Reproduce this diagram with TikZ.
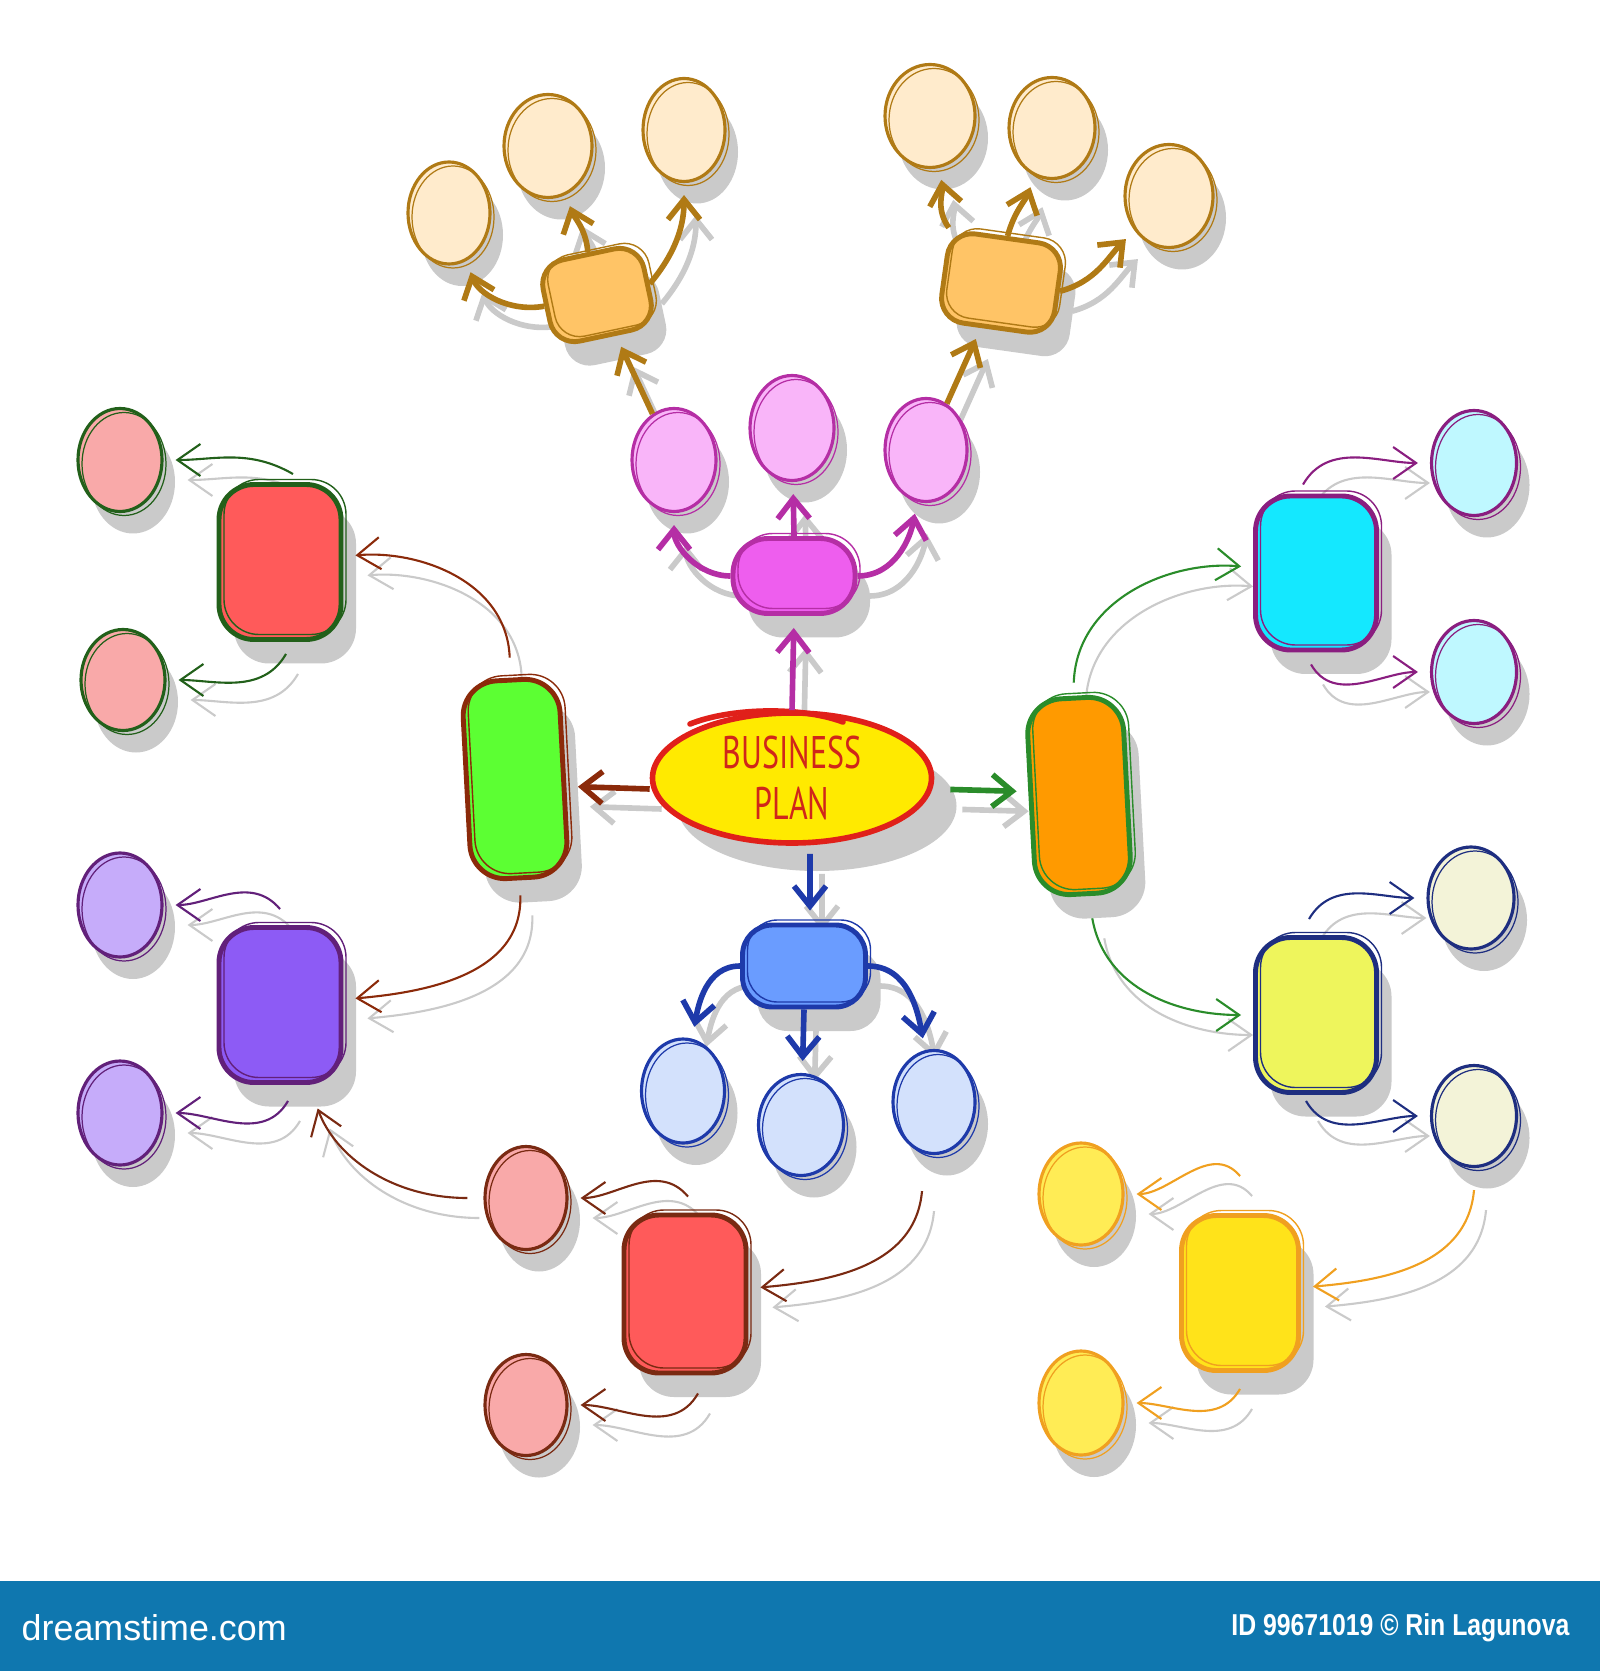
\documentclass[tikz,border=0pt]{standalone}
\usepackage{fontspec}
\usetikzlibrary{arrows.meta,shapes.geometric,shadows,positioning}

\newfontfamily\handfont[FakeStretch=0.7]{PT Sans}
\newfontfamily\barfont{Liberation Sans}
\newfontfamily\creditfont[FakeStretch=0.82]{Liberation Sans}

% fills
\definecolor{planyellow}{HTML}{FFEA00}
\definecolor{planred}{HTML}{E0201A}
\definecolor{plantext}{HTML}{D0261A}
\definecolor{greenfill}{HTML}{5CFF33}
\definecolor{orangefill}{HTML}{FF9A00}
\definecolor{magfill}{HTML}{EE5EEE}
\definecolor{magleaf}{HTML}{F9B5F9}
\definecolor{tanfill}{HTML}{FFC466}
\definecolor{tanleaf}{HTML}{FFEBCC}
\definecolor{redfill}{HTML}{FF5A5A}
\definecolor{pinkleaf}{HTML}{F9A9A9}
\definecolor{purplefill}{HTML}{8D5BF5}
\definecolor{lilacleaf}{HTML}{C6ACFA}
\definecolor{bluefill}{HTML}{6A9CFF}
\definecolor{blueleaf}{HTML}{D3E1FC}
\definecolor{cyanfill}{HTML}{14E8FF}
\definecolor{cyanleaf}{HTML}{BFF8FF}
\definecolor{limefill}{HTML}{EEF55C}
\definecolor{creamleaf}{HTML}{F3F3D8}
\definecolor{yellowfill}{HTML}{FFE31A}
\definecolor{yellowleaf}{HTML}{FFEC55}
% lines
\definecolor{brownline}{HTML}{8B2A0A}
\definecolor{greenline}{HTML}{2A8C2A}
\definecolor{magline}{HTML}{B52EA5}
\definecolor{tanline}{HTML}{B07A15}
\definecolor{blueline}{HTML}{1E3AAA}
\definecolor{forestline}{HTML}{22601A}
\definecolor{purpleline}{HTML}{62207A}
\definecolor{rustline}{HTML}{7A2A12}
\definecolor{plumline}{HTML}{8A1E80}
\definecolor{navyline}{HTML}{1E2E80}
\definecolor{goldline}{HTML}{F0A020}
\definecolor{shadowgray}{HTML}{CACACA}
\definecolor{barblue}{HTML}{0F77AF}

\pgfdeclarelayer{bg}
\pgfsetlayers{bg,main}

% all connectors of the map, used twice (shadow pass and real pass)
\newcommand{\maplinks}{%
  \path
    % centre to the four branches
    ([yshift=-1.1mm]ce.west) edge [link=brownline, heavy] ([yshift=-1mm]gr.east)
    ([yshift=-1.1mm]ce.east) edge [link=greenline, heavy, shorten <=1.6mm] ([yshift=0.7mm]or.west)
    (ce.north) edge [link=magline, heavy] (mr.south)
    ([xshift=1.8mm]ce.south) edge [link=blueline, heavy, shorten <=0.8mm] ([xshift=0.6mm]br.north)
    % magenta group
    (mr.west) edge [link=magline, heavy, out=180, in=-90] (me1)
    (mr.north) edge [link=magline, heavy] (me2)
    (mr.east) edge [link=magline, heavy, out=0, in=-100] (me3)
    % tan groups
    (me1) edge [link=tanline, heavy] (lor)
    (me3) edge [link=tanline, heavy] (ror)
    (lor.west) edge [link=tanline, heavy, out=190, in=-70] (te1)
    (lor.north) edge [link=tanline, heavy, out=95, in=-70] (te2)
    (lor.east) edge [link=tanline, heavy, out=50, in=-90] (te3)
    (ror.north west) edge [link=tanline, heavy, out=125, in=-80] (te4)
    (ror.north) edge [link=tanline, heavy, out=75, in=-110] (te5)
    (ror.east) edge [link=tanline, heavy, out=15, in=-135] (te6)
    % blue group
    (br.west) edge [link=blueline, heavy, out=180, in=80] (lb1)
    (br.south) edge [link=blueline, heavy] (lb2)
    (br.east) edge [link=blueline, heavy, out=0, in=100] (lb3)
    % left side
    ([yshift=2mm]gr.north) edge [link=brownline, out=92, in=5] (rr1)
    ([yshift=-1.5mm]gr.south) edge [link=brownline, out=-88, in=5] (pr)
    ([xshift=1.3mm,yshift=0.8mm]rr1.north) edge [link=forestline, out=150, in=0] (pe1)
    ([xshift=0.6mm,yshift=-1.2mm]rr1.south) edge [link=forestline, out=-120, in=0] (pe2)
    ([yshift=1.6mm]pr.north) edge [link=purpleline, out=130, in=0] (le1)
    ([xshift=0.8mm,yshift=-1.6mm]pr.south) edge [link=purpleline, out=-120, in=0] (le2)
    % bottom left
    ([xshift=-1.2mm,yshift=-3.6mm]lb3.south) edge [link=rustline, out=-95, in=5] (rr2)
    ([xshift=-1.6mm]pk1.west) edge [link=rustline, out=180, in=-70, shorten >=2.5mm] (pr)
    ([xshift=0.3mm,yshift=1.6mm]rr2.north) edge [link=rustline, out=130, in=0] (pk1)
    ([xshift=1.3mm,yshift=-1.8mm]rr2.south) edge [link=rustline, out=-120, in=0] (pk2)
    % right side
    ([yshift=1.3mm]or.north) edge [link=greenline, out=88, in=175] (cr)
    ([xshift=0.8mm,yshift=-2.2mm]or.south) edge [link=greenline, out=-80, in=180] (yr)
    ([xshift=-1.3mm,yshift=0.9mm]cr.north) edge [link=plumline, out=60, in=180] (cy1)
    ([xshift=-0.5mm,yshift=-1.2mm]cr.south) edge [link=plumline, out=-60, in=180] (cy2)
    ([xshift=-0.7mm,yshift=1.6mm]yr.north) edge [link=navyline, out=60, in=180] (cm1)
    ([xshift=-1mm,yshift=-0.6mm]yr.south) edge [link=navyline, out=-60, in=180] (cm2)
    % bottom right
    ([yshift=-2.2mm]cm2.south) edge [link=goldline, out=-95, in=5] (yl)
    ([yshift=3.7mm]yl.north) edge [link=goldline, out=130, in=0] (ye1)
    ([yshift=-1.6mm]yl.south) edge [link=goldline, out=-120, in=0] (ye2)
  ;}

\begin{document}
\begin{tikzpicture}[x=0.1mm, y=0.1mm,
    every edge/.style={draw, line width=0.6pt, shorten >=1.2mm,
      -{Straight Barb[length=2.3mm,width=3.2mm]}},
    heavy/.style={line width=1.6pt, -{Straight Barb[length=2mm,width=3.2mm]}},
    link/.style={draw=#1},
    topic/.style 2 args={draw=#2, fill=#1, line width=1.4pt, rounded corners=3.5mm,
      inner sep=0pt, minimum width=12.2mm, minimum height=15.5mm,
      drop shadow={shadow xshift=1.5mm, shadow yshift=-2.4mm, fill=shadowgray, opacity=1},
      postaction={draw=#2, line width=0.4pt, transform canvas={shift={(0.5mm,0.5mm)}}}},
    leaf/.style 2 args={ellipse, draw=#2, fill=#1, line width=0.9pt, inner sep=0pt,
      minimum width=8.4mm, minimum height=10.3mm,
      drop shadow={shadow xshift=1.3mm, shadow yshift=-2.2mm, fill=shadowgray, opacity=1},
      postaction={draw=#2, line width=0.35pt, transform canvas={shift={(0.4mm,-0.4mm)}}}}]
  \useasboundingbox (0,0) rectangle (1600,-1671);

  % centre
  \node [ellipse, draw=planred, fill=planyellow, line width=1.6pt, inner sep=0pt,
    minimum width=27.9mm, minimum height=13mm, align=center, text=plantext,
    font=\handfont\fontsize{13}{14.5}\selectfont,
    drop shadow={shadow xshift=2.5mm, shadow yshift=-2.8mm, fill=shadowgray, opacity=1}]
    (ce) at (792,-778) {BUSINESS\\PLAN};
  \draw [planred, line width=1.6pt, line cap=round]
    (690,-724) .. controls (730,-708) and (800,-706) .. (843,-722);

  % branches
  \node [topic={greenfill}{brownline}, minimum width=9.7mm, minimum height=19.8mm, rotate=3] (gr) at (515,-779) {};
  \node [topic={orangefill}{greenline}, minimum width=9.6mm, minimum height=19.6mm, rotate=3] (or) at (1079,-796) {};
  \node [topic={magfill}{magline}, minimum width=12.2mm, minimum height=7.5mm] (mr) at (794,-576) {};
  \node [topic={bluefill}{blueline}, minimum width=12.3mm, minimum height=8.2mm, rounded corners=3mm] (br) at (804,-966) {};

  % magenta leaves
  \node [leaf={magleaf}{magline}] (me1) at (674,-460) {};
  \node [leaf={magleaf}{magline}, minimum height=10.5mm] (me2) at (792,-428) {};
  \node [leaf={magleaf}{magline}, minimum width=8.2mm] (me3) at (926,-450) {};

  % tan groups
  \node [topic={tanfill}{tanline}, minimum width=10.3mm, minimum height=8.3mm, rounded corners=2.5mm, rotate=12] (lor) at (597,-295) {};
  \node [topic={tanfill}{tanline}, minimum width=11.4mm, minimum height=9mm, rounded corners=2.5mm, rotate=-8] (ror) at (1001,-283) {};
  \node [leaf={tanleaf}{tanline}, minimum width=8.2mm, minimum height=10.2mm] (te1) at (449,-213) {};
  \node [leaf={tanleaf}{tanline}, minimum width=8.8mm] (te2) at (548,-146) {};
  \node [leaf={tanleaf}{tanline}, minimum width=8.2mm] (te3) at (684,-130) {};
  \node [leaf={tanleaf}{tanline}, minimum width=9mm] (te4) at (930,-116) {};
  \node [leaf={tanleaf}{tanline}, minimum width=8.6mm, minimum height=10.1mm] (te5) at (1052,-128) {};
  \node [leaf={tanleaf}{tanline}, minimum width=8.8mm] (te6) at (1169,-196) {};

  % left side
  \node [topic={redfill}{forestline}] (rr1) at (280,-562) {};
  \node [leaf={pinkleaf}{forestline}] (pe1) at (120,-460) {};
  \node [leaf={pinkleaf}{forestline}, minimum height=10.1mm] (pe2) at (123,-680) {};
  \node [topic={purplefill}{purpleline}] (pr) at (280,-1005) {};
  \node [leaf={lilacleaf}{purpleline}, minimum height=10.4mm] (le1) at (120,-905) {};
  \node [leaf={lilacleaf}{purpleline}, minimum height=10.4mm] (le2) at (120,-1113) {};

  % blue leaves
  \node [leaf={blueleaf}{blueline}, minimum width=8.3mm, minimum height=10.4mm] (lb1) at (683,-1091) {};
  \node [leaf={blueleaf}{blueline}, minimum width=8.5mm, minimum height=10.1mm] (lb2) at (801,-1125) {};
  \node [leaf={blueleaf}{blueline}, minimum width=8.2mm] (lb3) at (934,-1102) {};

  % bottom left
  \node [topic={redfill}{rustline}, minimum height=15.8mm] (rr2) at (685,-1294) {};
  \node [leaf={pinkleaf}{rustline}, minimum width=8.2mm] (pk1) at (526,-1198) {};
  \node [leaf={pinkleaf}{rustline}, minimum width=8.2mm, minimum height=10.1mm] (pk2) at (526,-1405) {};

  % right side
  \node [topic={cyanfill}{plumline}, minimum width=12.1mm, minimum height=15.4mm] (cr) at (1316,-573) {};
  \node [leaf={cyanleaf}{plumline}, minimum width=8.5mm, minimum height=10.5mm] (cy1) at (1474,-463) {};
  \node [leaf={cyanleaf}{plumline}, minimum width=8.5mm] (cy2) at (1474,-672) {};
  \node [topic={limefill}{navyline}, minimum width=12.1mm] (yr) at (1316,-1015) {};
  \node [leaf={creamleaf}{navyline}, minimum width=8.6mm, minimum height=10.2mm] (cm1) at (1471,-898) {};
  \node [leaf={creamleaf}{navyline}, minimum width=8.5mm, minimum height=10.1mm] (cm2) at (1474,-1116) {};

  % bottom right
  \node [topic={yellowfill}{goldline}, minimum width=11.7mm] (yl) at (1240,-1293) {};
  \node [leaf={yellowleaf}{goldline}, minimum height=10.2mm] (ye1) at (1081,-1194) {};
  \node [leaf={yellowleaf}{goldline}, minimum height=10.4mm] (ye2) at (1081,-1403) {};

  % connectors: grey copy underneath, then the coloured ones
  \begin{pgfonlayer}{bg}
    \begin{scope}[transform canvas={shift={(1.2mm,-2mm)}}, link/.style={draw=shadowgray}]
      \maplinks
    \end{scope}
  \end{pgfonlayer}
  \maplinks

  % footer bar
  \fill [barblue] (0,-1581) rectangle (1600,-1671);
  \node [anchor=west, text=white, inner sep=0pt, font=\barfont\fontsize{10.2}{12}\selectfont]
    (site) at (21,-1628) {dreamstime.com};
  \node [anchor=east, text=white, inner sep=0pt, font=\creditfont\bfseries\fontsize{8.6}{10}\selectfont]
    (credit) at (1570,-1628) {ID 99671019 © Rin Lagunova};
\end{tikzpicture}
\end{document}
